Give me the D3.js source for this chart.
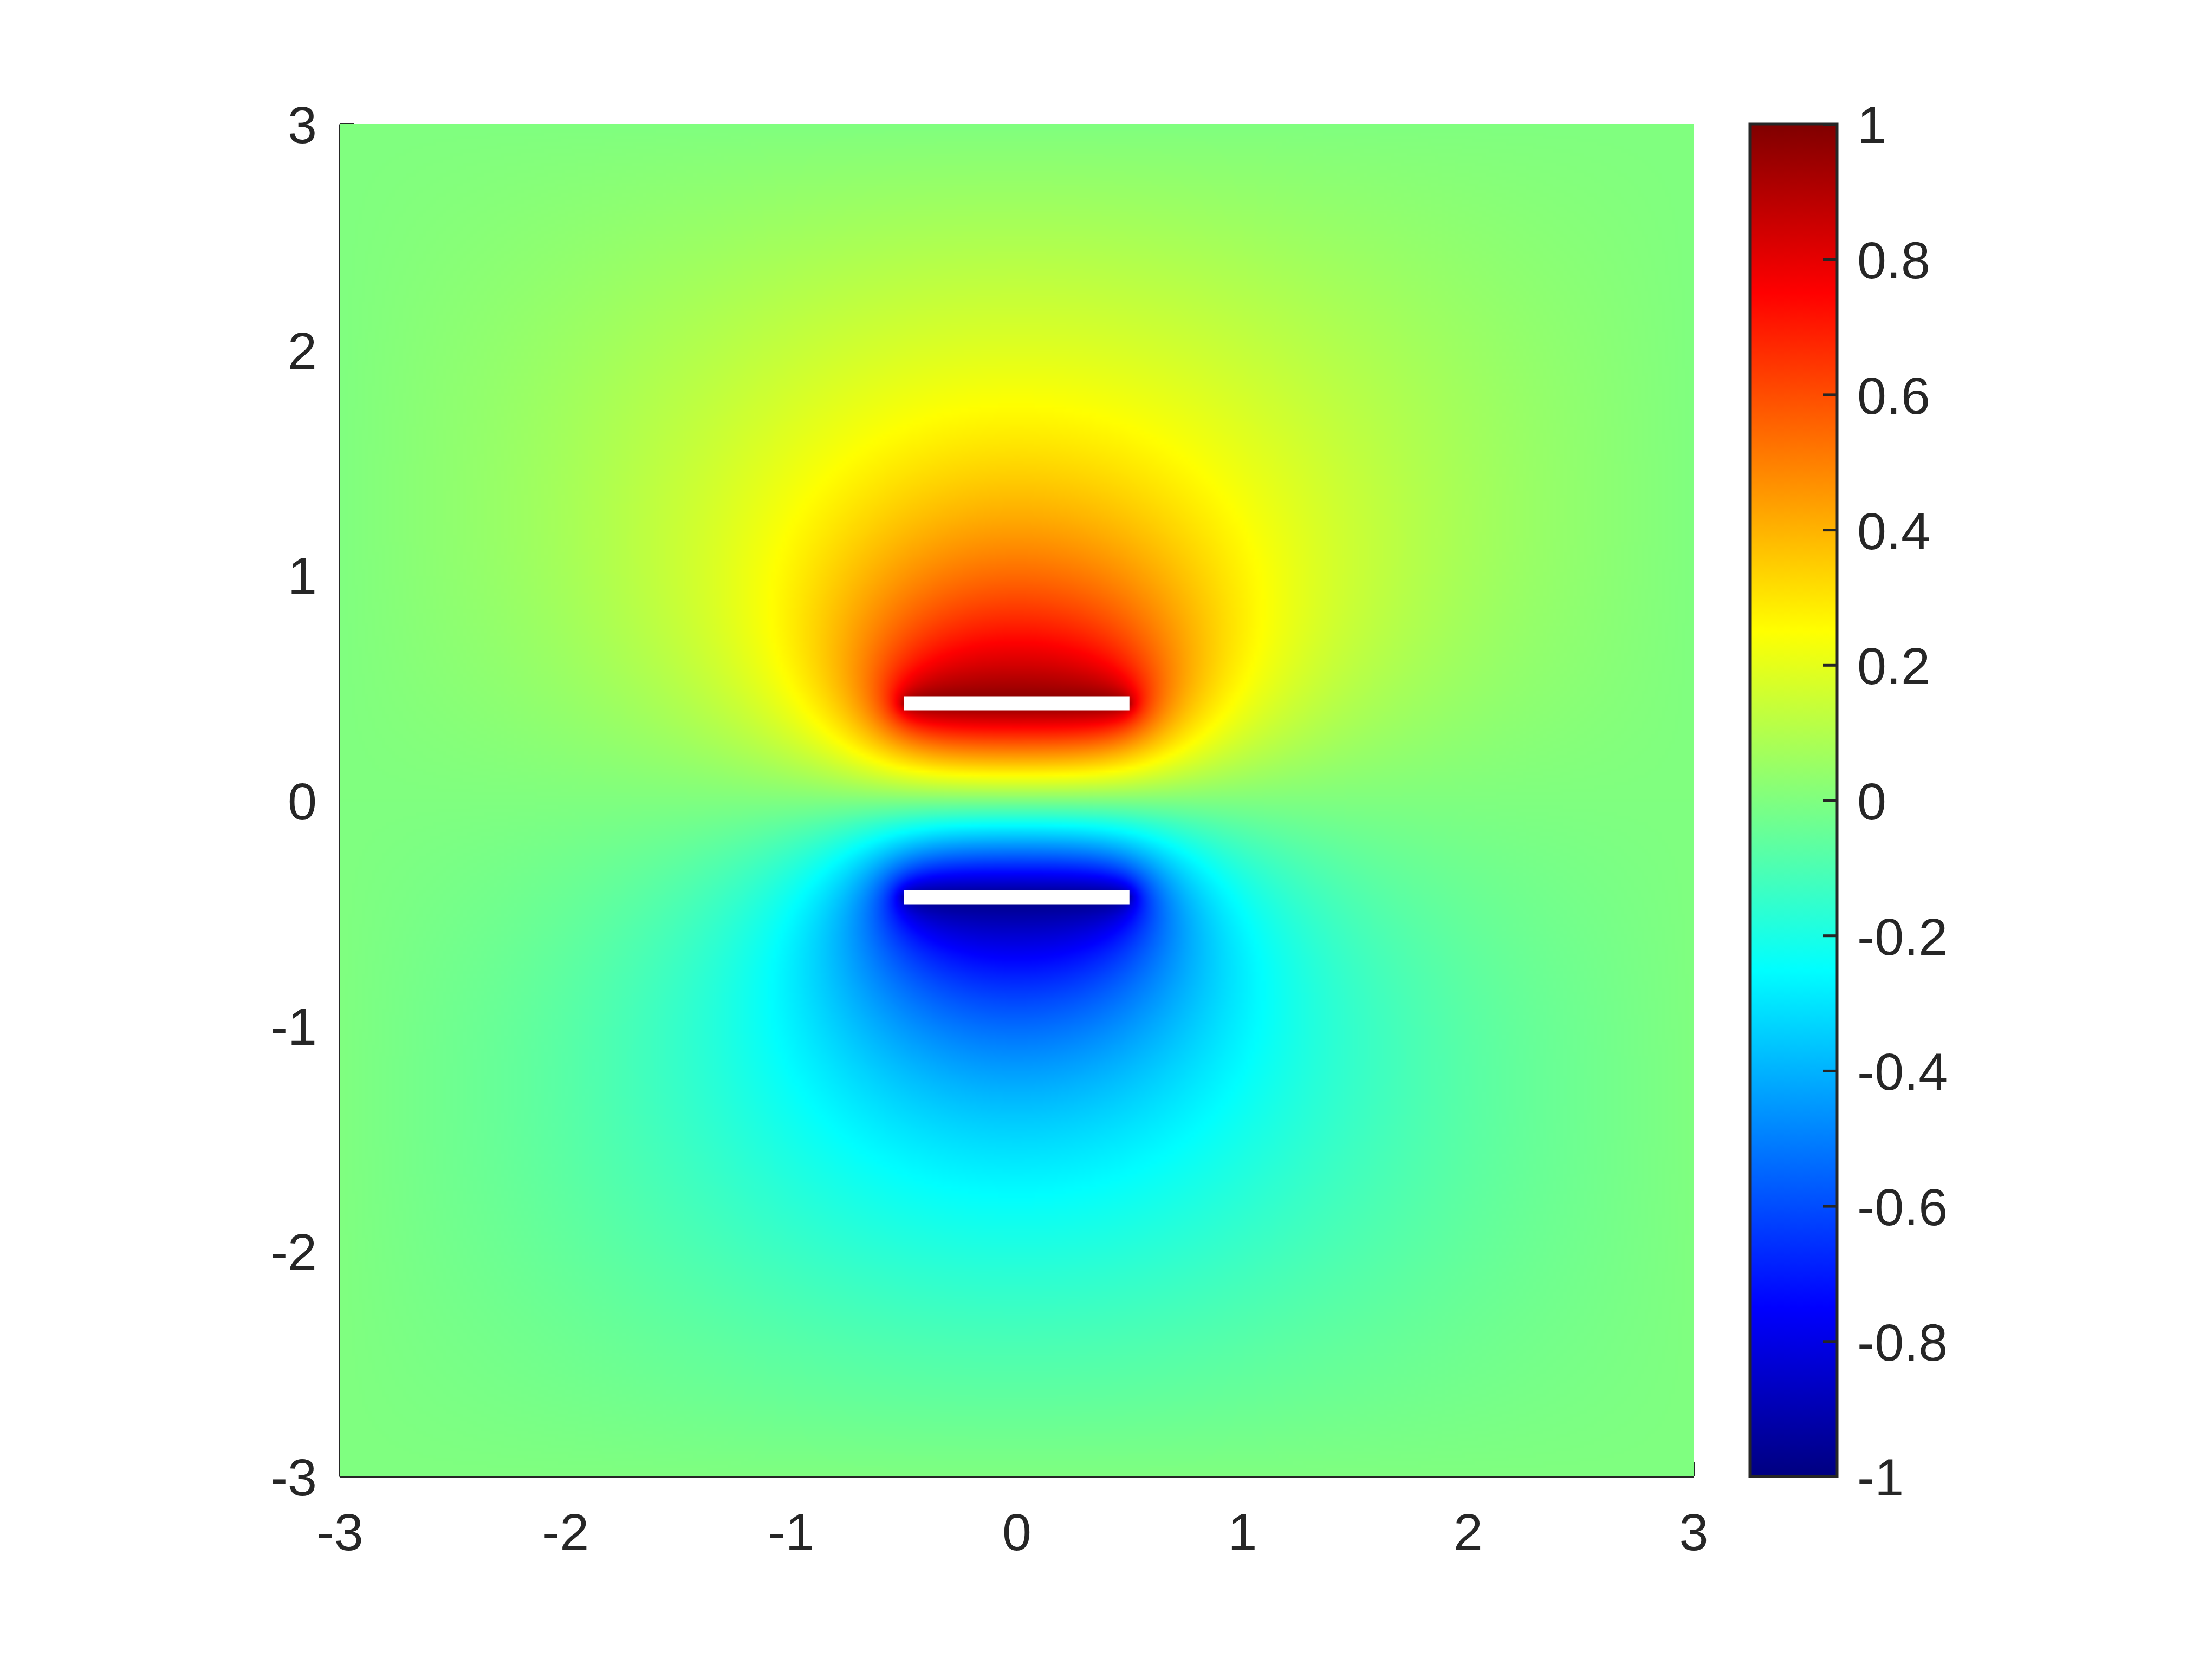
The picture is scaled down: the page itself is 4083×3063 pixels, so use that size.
<!DOCTYPE html>
<html>
<head>
<meta charset="utf-8">
<script src="https://cdn.jsdelivr.net/npm/d3@7"></script>
<style>
  html, body { margin: 0; padding: 0; background: #fff; }
  svg { display: block; }
</style>
</head>
<body>
<svg id="chart"></svg>
<script>
// two charged plates (conductors)
const plateX0 = [-0.5, -0.5];
const plateX1 = [0.5, 0.5];
const plateY = [0.43, -0.43];
const plateV = [1, -1];
// the edge of the box is held at 0
const boxMin = -3, boxMax = 3, boxV = 0;

const xTicks = [-3, -2, -1, 0, 1, 2, 3];
const yTicks = [-3, -2, -1, 0, 1, 2, 3];
const cTicks = [-1, -0.8, -0.6, -0.4, -0.2, 0, 0.2, 0.4, 0.6, 0.8, 1];

// jet colormap
const jetStops = [-1, -0.75, -0.25, 0.25, 0.75, 1];
const jetColors = ['#000080', '#0000ff', '#00ffff', '#ffff00', '#ff0000', '#800000'];

const W = 4083, H = 3063;
const ink = '#262626';
const font = '"Liberation Sans", Arial, Helvetica, sans-serif';
const fontSize = 97;

const x = d3.scaleLinear().domain([boxMin, boxMax]).range([627, 3126]);
const y = d3.scaleLinear().domain([boxMin, boxMax]).range([2726, 229]);
const c = d3.scaleLinear().domain([-1, 1]).range([2726, 229]);
const color = d3.scaleLinear().domain(jetStops).range(jetColors).clamp(true);

// --- boundary elements: straight panels split in equal pieces, each with a constant line charge
// panel: {vert, c0 (fixed coord), s0, s1, n, v}
const panels = [];
plateY.forEach(function(py, p) {
  panels.push({ vert: false, c0: py, s0: plateX0[p], s1: plateX1[p], n: 150, v: plateV[p] });
});
panels.push({ vert: false, c0: boxMin, s0: boxMin, s1: boxMax, n: 90, v: boxV });
panels.push({ vert: false, c0: boxMax, s0: boxMin, s1: boxMax, n: 90, v: boxV });
panels.push({ vert: true, c0: boxMin, s0: boxMin, s1: boxMax, n: 90, v: boxV });
panels.push({ vert: true, c0: boxMax, s0: boxMin, s1: boxMax, n: 90, v: boxV });

function F(u, d) {
  const r2 = u * u + d * d;
  let s = (r2 > 0 ? u * Math.log(r2) : 0) - 2 * u;
  if (d !== 0) s += 2 * d * Math.atan(u / d);
  return s;
}

const elems = [];
panels.forEach(function(pn) {
  pn.h = (pn.s1 - pn.s0) / pn.n;
  for (let k = 0; k < pn.n; k++) {
    const a = pn.s0 + k * pn.h, b = a + pn.h;
    elems.push({ pn: pn, a: a, b: b, v: pn.v,
      cx: pn.vert ? pn.c0 : (a + b) / 2, cy: pn.vert ? (a + b) / 2 : pn.c0 });
  }
});
function elemPot(e, px, py) {
  const pn = e.pn;
  const along = pn.vert ? py : px, d = pn.vert ? px - pn.c0 : py - pn.c0;
  return -(F(e.b - along, d) - F(e.a - along, d)) / (2 * pn.h);
}

const M = elems.length;
const A = [], rhs = [];
for (let i = 0; i < M; i++) {
  const row = new Float64Array(M);
  for (let k = 0; k < M; k++) row[k] = elemPot(elems[k], elems[i].cx, elems[i].cy);
  A.push(row);
  rhs.push(elems[i].v);
}
for (let col = 0; col < M; col++) {
  let piv = col;
  for (let r = col + 1; r < M; r++) if (Math.abs(A[r][col]) > Math.abs(A[piv][col])) piv = r;
  [A[col], A[piv]] = [A[piv], A[col]];
  [rhs[col], rhs[piv]] = [rhs[piv], rhs[col]];
  const Ac = A[col];
  for (let r = col + 1; r < M; r++) {
    const Ar = A[r];
    const f = Ar[col] / Ac[col];
    if (f === 0) continue;
    for (let k = col; k < M; k++) Ar[k] -= f * Ac[k];
    rhs[r] -= f * rhs[col];
  }
}
const q = new Float64Array(M);
for (let r = M - 1; r >= 0; r--) {
  let s = rhs[r];
  for (let k = r + 1; k < M; k++) s -= A[r][k] * q[k];
  q[r] = s / A[r][r];
}

// --- evaluate on a grid and paint it
const G = 400;
const canvas = document.createElement('canvas');
canvas.width = G; canvas.height = G;
const ctx = canvas.getContext('2d');
const img = ctx.createImageData(G, G);
const nodeF = new Float64Array(200);
const span = boxMax - boxMin;
for (let j = 0; j < G; j++) {
  const py = boxMax - (j + 0.5) * span / G;
  for (let i = 0; i < G; i++) {
    const px = boxMin + (i + 0.5) * span / G;
    let phi = 0, e0 = 0;
    panels.forEach(function(pn) {
      const along = pn.vert ? py : px, d = pn.vert ? px - pn.c0 : py - pn.c0;
      for (let k = 0; k <= pn.n; k++) nodeF[k] = F(pn.s0 + k * pn.h - along, d);
      for (let k = 0; k < pn.n; k++) phi -= q[e0 + k] * (nodeF[k + 1] - nodeF[k]) / (2 * pn.h);
      e0 += pn.n;
    });
    const col = d3.rgb(color(Math.max(-1, Math.min(1, phi))));
    const o = (j * G + i) * 4;
    img.data[o] = col.r; img.data[o + 1] = col.g; img.data[o + 2] = col.b; img.data[o + 3] = 255;
  }
}
ctx.putImageData(img, 0, 0);

const svg = d3.select('#chart')
  .attr('width', W)
  .attr('height', H)
  .attr('viewBox', '0 0 ' + W + ' ' + H)
  .style('background', '#fff');

// axes first, the surface covers their inner half like in matlab
const xAxis = svg.append('g')
  .attr('transform', 'translate(0,' + y(boxMin) + ')')
  .call(d3.axisBottom(x).tickValues(xTicks).tickSizeInner(-27).tickSizeOuter(0).tickPadding(67)
    .tickFormat(function(d) { return String(d); }));
const yAxis = svg.append('g')
  .attr('transform', 'translate(' + x(boxMin) + ',0)')
  .call(d3.axisLeft(y).tickValues(yTicks).tickSizeInner(-27).tickSizeOuter(0).tickPadding(42)
    .tickFormat(function(d) { return String(d); }));

[xAxis, yAxis].forEach(function(g) {
  g.attr('color', ink);
  g.selectAll('path, line').attr('stroke-width', 5);
  g.selectAll('text').style('font-family', font).style('font-size', fontSize + 'px').attr('fill', ink);
});
yAxis.selectAll('text').attr('dy', '0.36em');

svg.append('image')
  .attr('x', x(boxMin))
  .attr('y', y(boxMax))
  .attr('width', x(boxMax) - x(boxMin))
  .attr('height', y(boxMin) - y(boxMax))
  .attr('preserveAspectRatio', 'none')
  .attr('href', canvas.toDataURL());

// plates
svg.append('g').selectAll('line')
  .data(plateY)
  .enter()
  .append('line')
  .attr('x1', function(d, i) { return x(plateX0[i]); })
  .attr('x2', function(d, i) { return x(plateX1[i]); })
  .attr('y1', function(d) { return y(d); })
  .attr('y2', function(d) { return y(d); })
  .attr('stroke', '#fff')
  .attr('stroke-width', 26);

// colorbar
const cbX = 3230, cbW = 161;
const grad = svg.append('defs').append('linearGradient')
  .attr('id', 'jet')
  .attr('x1', 0).attr('y1', 1).attr('x2', 0).attr('y2', 0);
grad.selectAll('stop')
  .data(jetStops)
  .enter()
  .append('stop')
  .attr('offset', function(d) { return (d + 1) / 2; })
  .attr('stop-color', function(d, i) { return jetColors[i]; });

svg.append('rect')
  .attr('x', cbX)
  .attr('y', c(1))
  .attr('width', cbW)
  .attr('height', c(-1) - c(1))
  .attr('fill', 'url(#jet)')
  .attr('stroke', ink)
  .attr('stroke-width', 5);

const cAxis = svg.append('g')
  .attr('transform', 'translate(' + (cbX + cbW) + ',0)')
  .call(d3.axisRight(c).tickValues(cTicks).tickSizeInner(-26).tickSizeOuter(0).tickPadding(37)
    .tickFormat(function(d) { return String(d); }));
cAxis.attr('color', ink);
cAxis.select('.domain').remove();
cAxis.selectAll('line').attr('stroke-width', 5);
cAxis.selectAll('text').style('font-family', font).style('font-size', fontSize + 'px')
  .attr('fill', ink).attr('dy', '0.36em');
</script>
</body>
</html>
